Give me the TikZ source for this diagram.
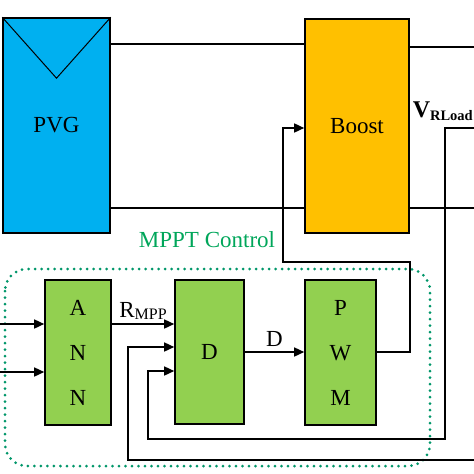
\documentclass[tikz,border=0pt]{standalone}
\usepackage{fontspec}
\setmainfont{Liberation Serif}
\usetikzlibrary{arrows.meta,positioning}
\definecolor{pvblue}{RGB}{0,176,240}
\definecolor{boostgold}{RGB}{255,192,0}
\definecolor{ctrlgreen}{RGB}{146,208,80}
\definecolor{mpptgreen}{RGB}{0,166,90}
\definecolor{framegreen}{RGB}{0,150,105}

\begin{document}
\begin{tikzpicture}[x=1pt, y=-1pt, line width=1.5pt,
  every node/.style={font=\fontsize{23}{27}\selectfont},
  block/.style={draw, line width=1.6pt, inner sep=0pt},
  sig/.style={-{Triangle[length=10pt,width=9pt]}}]
  \clip (0,0) rectangle (474,474);

  % power stage
  \node[block,fill=pvblue,minimum width=107pt,minimum height=215pt] (pvg) at (56.5,125.5) {PVG};
  \draw[line width=1pt] (pvg.north west) -- ([yshift=-61pt]pvg.north) -- (pvg.north east);
  \node[block,fill=boostgold,minimum width=104pt,minimum height=214pt] (boost) at (357,126) {Boost};

  \coordinate (vout) at (474,47);
  \coordinate (gnd) at (474,208);
  \coordinate (vfb) at (474,128);
  \coordinate (ifb) at (474,460);
  \coordinate (in1) at (0,324);
  \coordinate (in2) at (0,372);

  \draw (pvg.east |- 0,44) -- (boost.west |- 0,44);
  \draw (pvg.east |- 0,208) -- (boost.west |- 0,208);
  \draw (boost.east |- vout) -- (vout);
  \draw (boost.east |- gnd) -- (gnd);
  \node[anchor=west,inner sep=0pt] (vload) at (412,111)
    {\fontsize{24}{24}\selectfont\bfseries V\raisebox{-3pt}{\fontsize{14.5}{15}\selectfont RLoad}};

  % MPPT control
  \node[text=mpptgreen] (mppt) at (207,240) {MPPT Control};
  \draw[framegreen, line width=3pt, line cap=round, dash pattern=on 0pt off 6.5pt,
    rounded corners=22pt] (5,269) rectangle (430,466);

  \node[block,fill=ctrlgreen,minimum width=66pt,minimum height=145pt,align=center,
    font=\fontsize{23}{45}\selectfont] (ann) at (78,352.5) {A\\N\\N};
  \node[block,fill=ctrlgreen,minimum width=69pt,minimum height=144pt] (dbox) at (209.5,352) {D};
  \node[block,fill=ctrlgreen,minimum width=71pt,minimum height=145pt,align=center,
    font=\fontsize{23}{45}\selectfont] (pwm) at (340.5,352.5) {P\\W\\M};

  \draw[sig] (in1) -- (ann.west |- in1);
  \draw[sig] (in2) -- (ann.west |- in2);
  \draw[sig] (ann.east |- 0,324) -- node[above,inner sep=4pt]
    {R\raisebox{-2pt}{\fontsize{16}{16}\selectfont MPP}} (dbox.west |- 0,324);
  \draw[sig] (dbox.east |- 0,352) -- node[above,inner sep=5pt] {D} (pwm.west |- 0,352);

  % feedback and gate signal
  \draw[sig] (ifb) -| (128,347) -- (dbox.west |- 0,347);
  \draw[sig] (vfb) -| (445,439) -| (148,371) -- (dbox.west |- 0,371);
  \draw[sig] (pwm.east |- 0,352) -| (410,262) -| (283,128) -- (boost.west |- 0,128);
\end{tikzpicture}
\end{document}
